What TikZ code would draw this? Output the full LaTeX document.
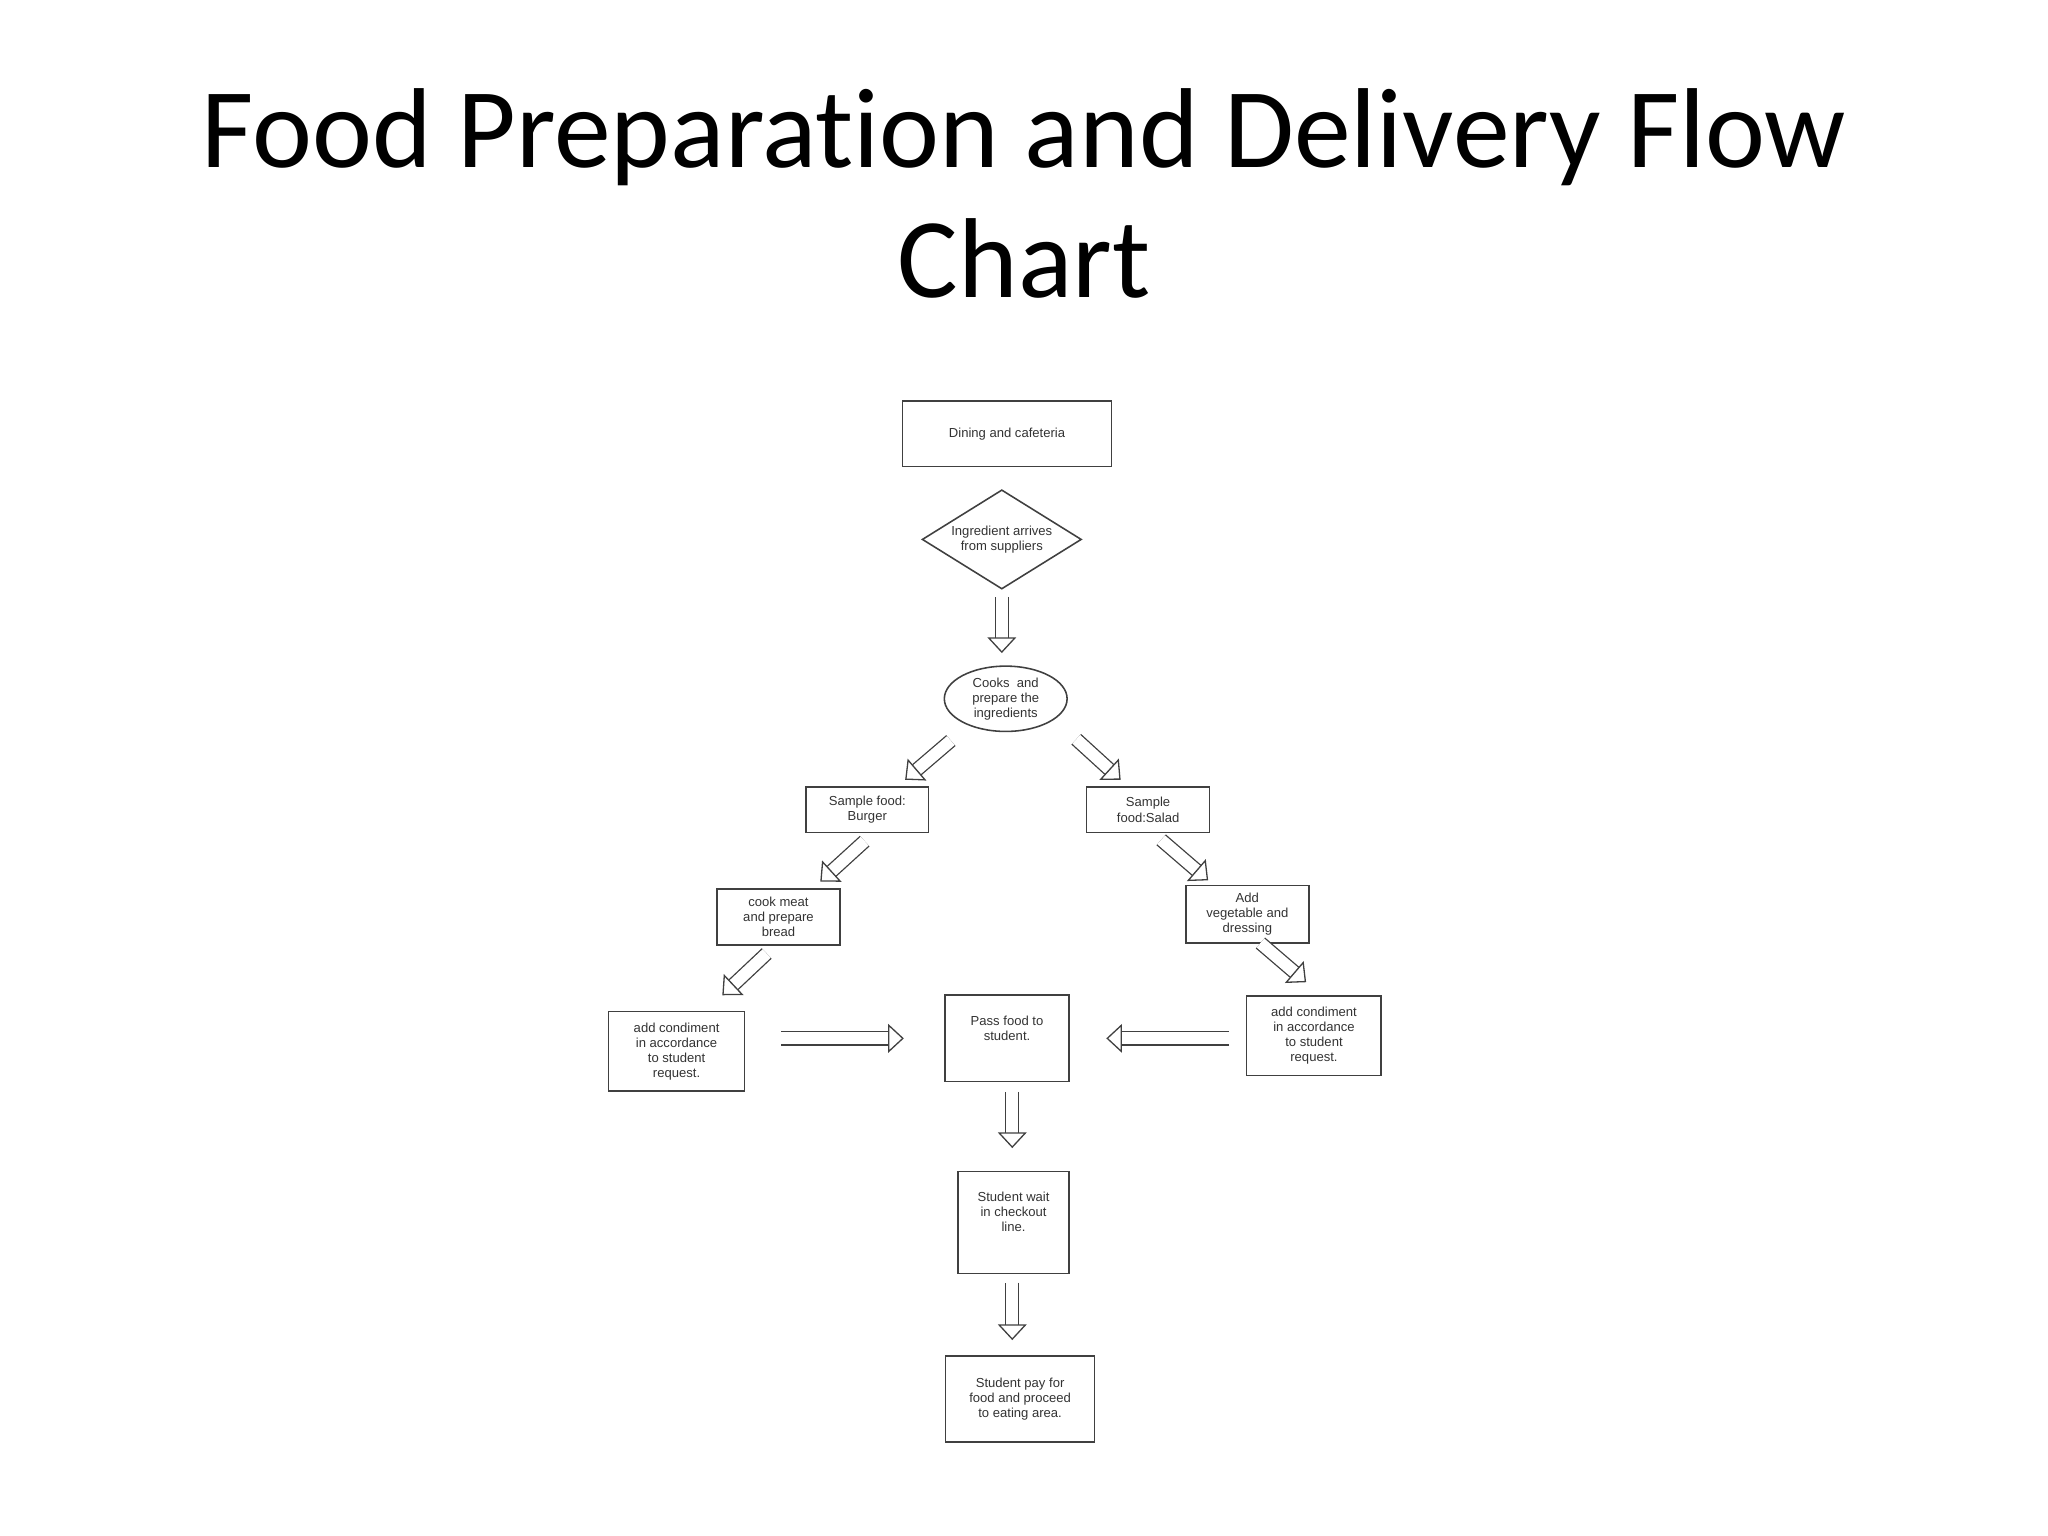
\documentclass[tikz,border=0pt]{standalone}
\usepackage{fontspec}
\setmainfont[Ligatures=NoCommon]{Carlito}
\newfontfamily\boxfont{Liberation Sans}
\usetikzlibrary{shapes.geometric}
\usetikzlibrary{arrows.meta}
\begin{document}
\begin{tikzpicture}[x=0.5pt,y=-0.5pt,
  box/.style={draw=black!75, line width=0.6pt, align=center, inner sep=0pt,
    font=\boxfont\fontsize{5}{5.8}\selectfont, text=black!80},
  hollow/.style={draw=black!75, line width=0.5pt, double=white, double distance=4.5pt,
    -{Triangle[open, length=6pt, width=11pt, fill=white]}}]
\useasboundingbox (0,0) rectangle (1568,1176);

% Title
\node (title) at (784,148) [align=center, font=\fontsize{43.5}{50}\selectfont]
  {Food Preparation and Delivery Flow\\Chart};

% Nodes
\node (dining) at (771,332) [box, minimum width=80pt, minimum height=25pt] {Dining and cafeteria};
\node (arrive) at (767,413) [box, diamond, aspect=1.6, minimum width=61pt, minimum height=38pt] {Ingredient arrives\\from suppliers};
\node (cooks) at (770,535) [box, ellipse, minimum width=47pt, minimum height=25pt] {Cooks \ and\\prepare the\\ingredients};
\node (burger) at (664,620) [box, minimum width=47pt, minimum height=17.5pt] {Sample food:\\Burger};
\node (salad) at (879,620) [box, minimum width=47pt, minimum height=17.5pt] {Sample\\food:Salad};
\node (meat) at (596,702) [box, minimum width=47pt, minimum height=21.5pt] {cook meat\\and prepare\\bread};
\node (veg) at (955,700) [box, minimum width=47pt, minimum height=22pt] {Add\\vegetable and\\dressing};
\node (condl) at (518,805) [box, minimum width=52pt, minimum height=30.5pt] {add condiment\\in accordance\\to student\\request.};
\node (pass) at (771,795) [box, minimum width=47.5pt, minimum height=33pt, text depth=8pt] {Pass food to\\student.};
\node (condr) at (1006,793) [box, minimum width=51.5pt, minimum height=30.5pt] {add condiment\\in accordance\\to student\\request.};
\node (wait) at (776,936) [box, minimum width=42.5pt, minimum height=39pt, text depth=8pt] {Student wait\\in checkout\\line.};
\node (pay) at (781,1071) [box, minimum width=57pt, minimum height=33pt] {Student pay for\\food and proceed\\to eating area.};

% Arrow ends
\coordinate (a1) at (767,457); \coordinate (b1) at (767,500);
\coordinate (a2) at (728,567); \coordinate (b2) at (693,597);
\coordinate (a3) at (824,566); \coordinate (b3) at (858,597);
\coordinate (a4) at (662,644); \coordinate (b4) at (628,675);
\coordinate (a5) at (889,643); \coordinate (b5) at (925,674);
\coordinate (a6) at (587,730); \coordinate (b6) at (553,762);
\coordinate (a7) at (965,722); \coordinate (b7) at (1000,752);
\coordinate (a8) at (598,795); \coordinate (b8) at (692,795);
\coordinate (a9) at (941,795); \coordinate (b9) at (847,795);
\coordinate (a10) at (775,836); \coordinate (b10) at (775,879);
\coordinate (a11) at (775,982); \coordinate (b11) at (775,1026);

\foreach \i in {1,...,11}
  \draw[hollow] (a\i) -- (b\i);
\end{tikzpicture}
\end{document}
